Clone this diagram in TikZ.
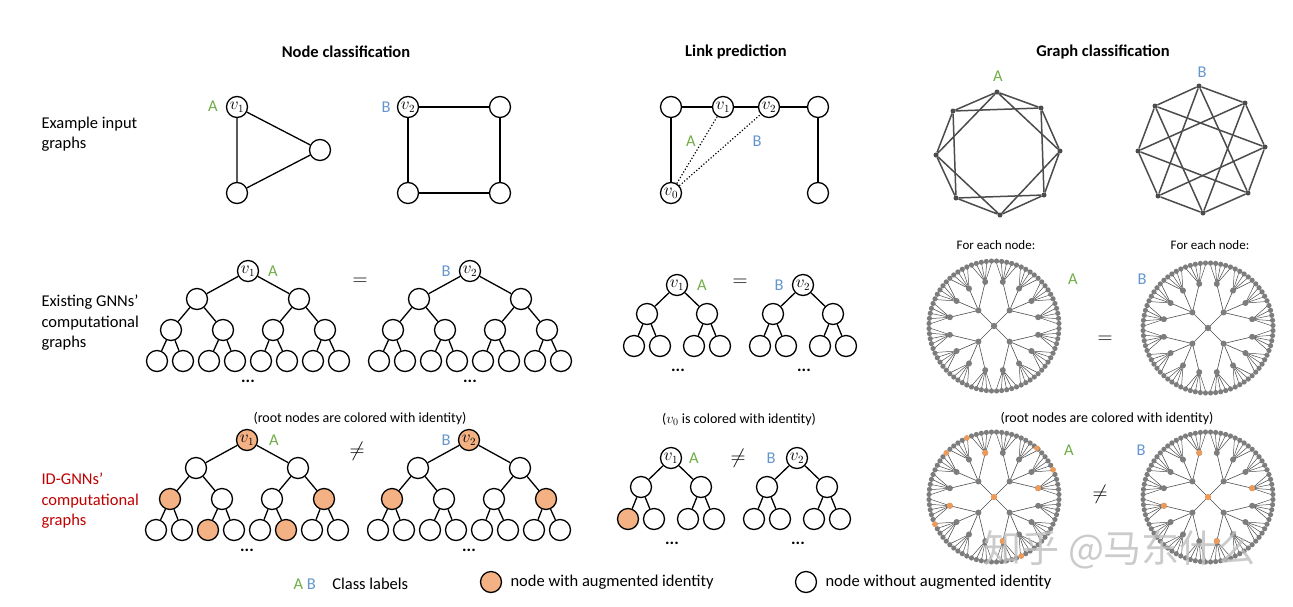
\documentclass[tikz,border=0pt]{standalone}
\usepackage{fontspec}
\setmainfont{Carlito}
\newfontfamily\cjk{Noto Sans CJK SC}
\usepackage{amssymb}
\definecolor{gA}{RGB}{112,173,71}
\definecolor{gB}{RGB}{100,150,205}
\definecolor{orf}{RGB}{244,177,131}
\definecolor{ord}{RGB}{238,155,90}
\definecolor{idred}{RGB}{192,0,0}
\definecolor{dg}{RGB}{125,125,125}
\tikzset{
 tnode/.style={circle,draw,line width=1.3pt,fill=white,minimum size=21pt,inner sep=0pt,font=\fontsize{16}{16}\selectfont},
 onode/.style={fill=orf},
 edge/.style={line width=1.3pt},
 lab/.style={font=\fontsize{16.5}{16.5}\selectfont},
 hd/.style={font=\bfseries\fontsize{16.5}{16.5}\selectfont},
 sm/.style={font=\fontsize{14}{14}\selectfont},
 gdot/.style={circle,fill=black!70,inner sep=0pt,minimum size=5pt},
 gedge/.style={line width=1.5pt,draw=black!70},
 eqs/.style={font=\fontsize{22}{22}\selectfont},
 dots/.style={font=\bfseries\fontsize{17}{17}\selectfont},
}
\newcommand\btree[4]{%
 \node[tnode,#1-r/.try] (#1r) at (#2,#3) {#4};
 \node[tnode,#1-a1/.try] (#1a1) at (#2-51,#3+28) {};
 \node[tnode,#1-a2/.try] (#1a2) at (#2+51,#3+28) {};
 \node[tnode,#1-b1/.try] (#1b1) at (#2-77,#3+59) {};
 \node[tnode,#1-b2/.try] (#1b2) at (#2-25,#3+59) {};
 \node[tnode,#1-b3/.try] (#1b3) at (#2+25,#3+59) {};
 \node[tnode,#1-b4/.try] (#1b4) at (#2+77,#3+59) {};
 \node[tnode,#1-c1/.try] (#1c1) at (#2-91,#3+90) {};
 \node[tnode,#1-c2/.try] (#1c2) at (#2-65,#3+90) {};
 \node[tnode,#1-c3/.try] (#1c3) at (#2-39,#3+90) {};
 \node[tnode,#1-c4/.try] (#1c4) at (#2-13,#3+90) {};
 \node[tnode,#1-c5/.try] (#1c5) at (#2+13,#3+90) {};
 \node[tnode,#1-c6/.try] (#1c6) at (#2+39,#3+90) {};
 \node[tnode,#1-c7/.try] (#1c7) at (#2+65,#3+90) {};
 \node[tnode,#1-c8/.try] (#1c8) at (#2+91,#3+90) {};
 \draw[edge] (#1r)--(#1a1) (#1r)--(#1a2)
  (#1a1)--(#1b1) (#1a1)--(#1b2) (#1a2)--(#1b3) (#1a2)--(#1b4)
  (#1b1)--(#1c1) (#1b1)--(#1c2) (#1b2)--(#1c3) (#1b2)--(#1c4)
  (#1b3)--(#1c5) (#1b3)--(#1c6) (#1b4)--(#1c7) (#1b4)--(#1c8);
 \node[dots] (#1d) at (#2,#3+110) {...};
}
\newcommand\stree[4]{%
 \node[tnode,#1-r/.try] (#1r) at (#2,#3) {#4};
 \node[tnode,#1-a1/.try] (#1a1) at (#2-30,#3+29) {};
 \node[tnode,#1-a2/.try] (#1a2) at (#2+30,#3+29) {};
 \node[tnode,#1-c1/.try] (#1c1) at (#2-43,#3+61) {};
 \node[tnode,#1-c2/.try] (#1c2) at (#2-17,#3+61) {};
 \node[tnode,#1-c3/.try] (#1c3) at (#2+17,#3+61) {};
 \node[tnode,#1-c4/.try] (#1c4) at (#2+43,#3+61) {};
 \draw[edge] (#1r)--(#1a1) (#1r)--(#1a2)
  (#1a1)--(#1c1) (#1a1)--(#1c2) (#1a2)--(#1c3) (#1a2)--(#1c4);
 \node[dots] (#1d) at (#2+1,#3+85) {...};
}
\newcommand\rtree[3]{%
 \begin{scope}[shift={(#1,#2)},y=1pt]
 \foreach \i in {0,...,3}{
   \pgfmathsetmacro\aa{45+90*\i}
   \draw[black!70,line width=0.6pt] (0,0)--(\aa:22);
   \foreach \j in {0,...,3}{
     \pgfmathsetmacro\bb{11.25+22.5*(4*\i+\j)}
     \draw[black!70,line width=0.6pt] (\aa:22)--(\bb:45);
     \foreach \k in {-2,...,2}{
       \draw[black!70,line width=0.5pt] (\bb:45)--(\bb+4.5*\k:63);
     }
   }
 }
 \foreach \i in {0,...,3}{\fill[dg] (45+90*\i:22) circle (3pt);}
 \foreach \j in {0,...,15}{\fill[dg] (11.25+22.5*\j:45) circle (3pt);}
 \foreach \m in {0,...,79}{\fill[dg] (2.25+4.5*\m:65) circle (2.6pt);}
 \fill[#3] (0,0) circle (3.2pt);
 \end{scope}}
\begin{document}
\begin{tikzpicture}[x=1pt,y=-1pt]
\useasboundingbox[fill=white] (0,0) rectangle (1293,606);
% headers
\node[hd] (h1) at (346,52) {Node classification};
\node[hd] (h2) at (736,52) {Link prediction};
\node[hd] (h3) at (1103,52) {Graph classification};
% row labels
\node[lab,anchor=west,align=left] (r1) at (38,134) {Example input\\[4pt]graphs};
\node[lab,anchor=west,align=left] (r2) at (38,323) {Existing GNNs'\\[4pt]computational\\[4pt]graphs};
\node[lab,anchor=west,align=left,text=idred] (r3) at (38,501) {ID-GNNs'\\[4pt]computational\\[4pt]graphs};
% row 1 node classification
\node[tnode] (t1) at (237,107) {$v_1$};
\node[tnode] (t2) at (320,150) {};
\node[tnode] (t3) at (237,193) {};
\draw[edge] (t1)--(t2)--(t3)--(t1);
\node[lab,text=gA] (tA) at (213,106) {A};
\node[tnode] (s1) at (408,107) {$v_2$};
\node[tnode] (s2) at (500,107) {};
\node[tnode] (s3) at (500,193) {};
\node[tnode] (s4) at (408,193) {};
\draw[edge] (s1)--(s2)--(s3)--(s4)--(s1);
\node[lab,text=gB] (sB) at (386,107) {B};
% row 1 link prediction
\node[tnode] (p1) at (671,107) {};
\node[tnode] (p2) at (723,107) {$v_1$};
\node[tnode] (p3) at (769,107) {$v_2$};
\node[tnode] (p4) at (818,107) {};
\node[tnode] (p0) at (671,193) {$v_0$};
\node[tnode] (p5) at (818,193) {};
\draw[edge] (p1)--(p2)--(p3)--(p4) (p1)--(p0) (p4)--(p5);
\draw[line width=1.2pt,dotted] (p0)--(p2) (p0)--(p3);
\node[lab,text=gA] (pA) at (691,141) {A};
\node[lab,text=gB] (pB) at (757,141) {B};
% row 1 graph classification
\foreach \n/\x/\y in {0/997/92,1/1041/108,2/1060/151,3/1044/195,4/1000/215,5/956/198,6/936/155,7/953/111}
  \node[gdot] (ga\n) at (\x,\y) {};
\foreach \n/\x/\y in {0/1199/86,1/1245/103,2/1265/147,3/1248/193,4/1203/213,5/1158/196,6/1138/151,7/1155/106}
  \node[gdot] (gb\n) at (\x,\y) {};
\foreach \i [evaluate=\i as \a using {int(mod(\i+1,8))}, evaluate=\i as \b using {int(mod(\i+2,8))}, evaluate=\i as \c using {int(mod(\i+3,8))}] in {0,...,7}{
  \draw[gedge] (ga\i)--(ga\a) (ga\i)--(ga\b);
  \draw[gedge] (gb\i)--(gb\a) (gb\i)--(gb\c);
}
\node[lab,text=gA] (gAl) at (998,76) {A};
\node[lab,text=gB] (gBl) at (1202,72) {B};
% row 2 node classification
\btree{NA}{248}{271}{$v_1$}
\btree{NB}{470}{271}{$v_2$}
\node[lab,text=gA] (n2A) at (273,271) {A};
\node[lab,text=gB] (n2B) at (446,271) {B};
\node[eqs] (eq1) at (360,282) {$=$};
% row 2 link prediction
\stree{LA}{677}{285}{$v_1$}
\stree{LB}{803}{285}{$v_2$}
\node[lab,text=gA] (l2A) at (702,285) {A};
\node[lab,text=gB] (l2B) at (779,285) {B};
\node[eqs] (eq2) at (740,283) {$=$};
% row 2 graph classification
\node[font=\fontsize{13}{13}\selectfont] (fe1) at (996,245) {For each node:};
\node[font=\fontsize{13}{13}\selectfont] (fe2) at (1210,245) {For each node:};
\rtree{994}{326}{dg}
\rtree{1208}{328}{dg}
\node[lab,text=gA] (g2A) at (1073,279) {A};
\node[lab,text=gB] (g2B) at (1142,279) {B};
\node[eqs] (eq3) at (1105,340) {$=$};
% row 3
\node[sm] (c1) at (360,418) {(root nodes are colored with identity)};
\node[sm] (c2) at (739,419) {($v_0$ is colored with identity)};
\node[sm] (c3) at (1107,418) {(root nodes are colored with identity)};
\tikzset{IA-r/.style={fill=orf},IA-b1/.style={fill=orf},IA-b4/.style={fill=orf},IA-c3/.style={fill=orf},IA-c6/.style={fill=orf},
 IB-r/.style={fill=orf},IB-b1/.style={fill=orf},IB-b4/.style={fill=orf},JA-c1/.style={fill=orf}}
\btree{IA}{247}{440}{$v_1$}
\btree{IB}{469}{440}{$v_2$}
\node[lab,text=gA] (n3A) at (274,440) {A};
\node[lab,text=gB] (n3B) at (446,440) {B};
\node[eqs] (ne1) at (357,451) {$\neq$};
\stree{JA}{671}{458}{$v_1$}
\stree{JB}{797}{458}{$v_2$}
\node[lab,text=gA] (l3A) at (694,458) {A};
\node[lab,text=gB] (l3B) at (771,458) {B};
\node[eqs] (ne2) at (738,458) {$\neq$};
\rtree{994}{497}{ord}
\rtree{1208}{497}{ord}
\begin{scope}[shift={(994,497)},y=1pt]
 \foreach \a in {101.25,191.25,11.25,281.25} \fill[ord] (\a:45) circle (3pt);
 \foreach \a in {114.75,137.25,48.75,24.75,204.75,294.75} \fill[ord] (\a:65) circle (2.8pt);
\end{scope}
\begin{scope}[shift={(1208,497)},y=1pt]
 \foreach \a in {101.25,191.25,11.25,281.25} \fill[ord] (\a:45) circle (3pt);
\end{scope}
\node[lab,text=gA] (g3A) at (1069,450) {A};
\node[lab,text=gB] (g3B) at (1141,450) {B};
\node[eqs] (ne3) at (1100,494) {$\neq$};
% legend
\node[lab,anchor=west] (lg1) at (290,584) {\textcolor{gA}{A} \textcolor{gB}{B}\quad Class labels};
\node[tnode,fill=orf] (lgo) at (491,582) {};
\node[lab,anchor=west] (lg2) at (507,582) {node with augmented identity};
\node[tnode] (lgw) at (806,582) {};
\node[lab,anchor=west] (lg3) at (822,582) {node without augmented identity};
% watermark
\node[anchor=west,text=black!25,opacity=0.8,font=\cjk\fontsize{38}{38}\selectfont] (wm) at (980,550) {知乎 @马东什么};
\end{tikzpicture}
\end{document}
